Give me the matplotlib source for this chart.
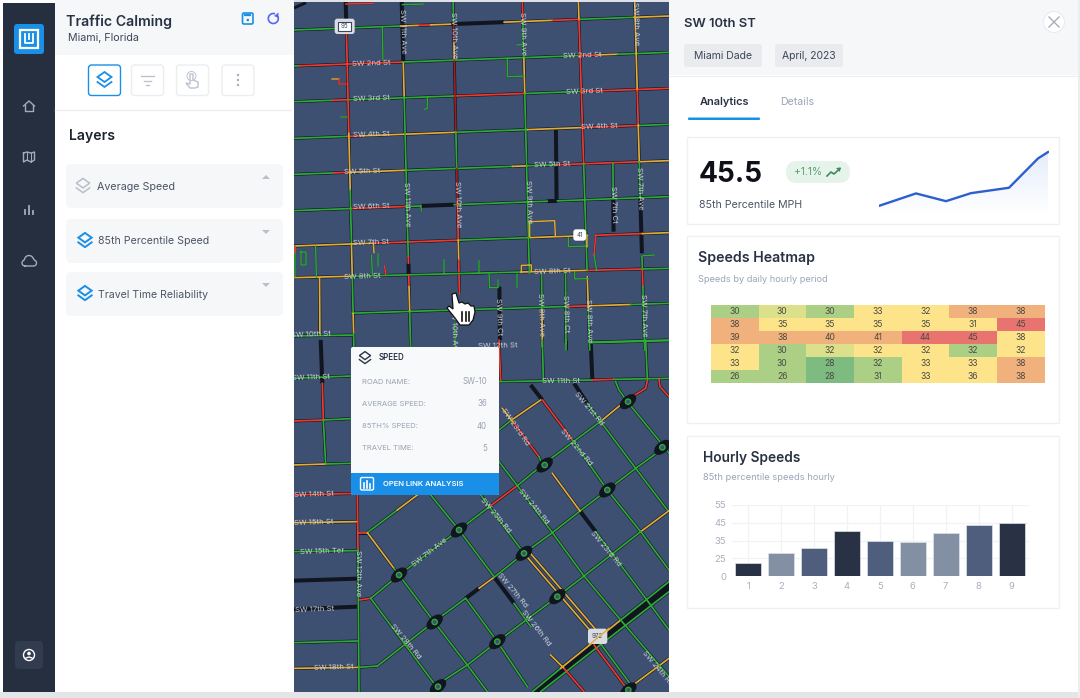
# plot.py - traffic calming dashboard screenshot
import numpy as np
import matplotlib
matplotlib.use("Agg")
import matplotlib.pyplot as plt
from matplotlib.colors import ListedColormap, LinearSegmentedColormap
from matplotlib.patches import FancyBboxPatch, Rectangle, Polygon, Circle, Ellipse

plt.rcParams['font.family'] = ['Inter', 'DejaVu Sans']

W, H = 1080, 698

# === DATA ===
HEAT_VALUES = [
    [30, 30, 30, 33, 32, 38, 38],
    [38, 35, 35, 35, 35, 31, 45],
    [39, 38, 40, 41, 44, 45, 38],
    [32, 30, 32, 32, 32, 32, 32],
    [33, 30, 28, 32, 33, 33, 38],
    [26, 26, 28, 31, 33, 36, 38],
]
# colour class of each cell: 0 deep green, 1 green, 2 pale, 3 yellow, 4 orange, 5 red
HEAT_CLASS = [
    [1, 2, 1, 3, 3, 4, 4],
    [4, 3, 3, 3, 3, 3, 5],
    [4, 4, 4, 4, 5, 5, 3],
    [3, 1, 2, 3, 3, 1, 3],
    [3, 1, 0, 1, 3, 3, 4],
    [1, 1, 0, 1, 3, 3, 4],
]
HEAT_COLORS = ["#7dbb80", "#abcf85", "#dce08a", "#fde48b", "#f0b17d", "#e9746f"]

HOURS = [1, 2, 3, 4, 5, 6, 7, 8, 9]
HOURLY_SPEED = [19, 28, 31, 40.5, 34.5, 34, 39, 43.5, 45]
BAR_COLORS = ["#283244", "#838fa3", "#4e5e7c", "#283244", "#4e5e7c",
              "#838fa3", "#838fa3", "#4e5e7c", "#283244"]
SPEED_TICKS = [0, 25, 35, 45, 55]

SPARK_X = [0, 37, 67, 92, 130, 159, 169]
SPARK_Y = [6.6, 15.6, 10, 15.8, 19.7, 40.9, 45.5]

ROAD_COLORS = {"g": "#2eaa38", "y": "#e0ac3a", "r": "#ee3a2e", "d": "#9a1f20", "k": "#11151f"}

# horizontal roads upper map: y at left, y at right, (x0, x1, colour) pieces (3x zoom coords)
TOP_H = [
    (90, 48, [(0, 150, "g"), (150, 320, "g"), (320, 375, "y"), (375, 410, "r"), (410, 470, "y"),
              (470, 630, "k"), (630, 775, "y"), (775, 855, "r"), (855, 1020, "g"), (1020, 1125, "y")]),
    (198, 157, [(0, 15, "g"), (15, 325, "r"), (325, 855, "g"), (855, 915, "r"), (915, 970, "y"), (970, 1125, "g")]),
    (305, 265, [(0, 115, "g"), (115, 160, "r"), (160, 480, "g"), (480, 695, "r"), (695, 860, "g"), (860, 1125, "r")]),
    (415, 373, [(0, 160, "g"), (160, 200, "r"), (200, 485, "y"), (485, 700, "g"), (700, 865, "y"), (865, 1035, "r"), (1035, 1125, "g")]),
    (523, 482, [(0, 120, "g"), (120, 165, "r"), (165, 335, "y"), (335, 655, "g"), (655, 700, "y"), (700, 790, "g"), (790, 1035, "r"), (1035, 1125, "y")]),
    (632, 590, [(0, 170, "g"), (170, 335, "r"), (335, 380, "g"), (380, 480, "k"), (480, 760, "g"), (760, 790, "k"), (790, 1125, "g")]),
    (738, 698, [(0, 240, "y"), (240, 495, "r"), (495, 710, "g"), (710, 880, "y"), (905, 1045, "r"), (1045, 1125, "y")]),
    (833, 805, [(0, 170, "y"), (170, 680, "g"), (680, 880, "y"), (880, 1045, "r"), (1045, 1125, "g")]),
    (945, 910, [(175, 815, "g"), (815, 885, "r"), (885, 1010, "y"), (1010, 1125, "g")]),
    (1008, 990, [(0, 175, "g")]),
    (1050, 1020, [(885, 1125, "g")]),
]
# vertical roads upper map: x at top, x at bottom, (y0, y1, colour) pieces
TOP_V = [
    (155, 180, [(0, 90, "k"), (90, 400, "r"), (400, 570, "y"), (570, 730, "g"), (730, 830, "y"), (830, 940, "g"), (940, 1000, "y"), (1000, 1050, "g")]),
    (323, 350, [(0, 70, "k"), (70, 190, "k"), (190, 290, "y"), (290, 770, "g"), (770, 790, "r"), (790, 825, "k"), (825, 860, "r"), (860, 935, "y"), (935, 1040, "g")]),
    (477, 500, [(0, 70, "g"), (70, 130, "d"), (130, 180, "y"), (180, 395, "d"), (395, 505, "g"), (505, 600, "d"), (600, 720, "r"), (720, 780, "y"), (780, 815, "r"), (825, 880, "r")]),
    (685, 712, [(0, 60, "r"), (60, 175, "g"), (175, 280, "y"), (280, 820, "g")]),
    (735, 745, [(825, 930, "g"), (930, 1040, "y")]),
    (853, 887, [(0, 60, "y"), (60, 490, "r"), (490, 810, "g"), (830, 930, "y"), (930, 1050, "g")]),
    (1022, 1052, [(0, 270, "y"), (270, 375, "r"), (375, 485, "y"), (485, 590, "g"), (590, 760, "k"), (770, 810, "g"), (810, 860, "r"), (860, 1050, "g")]),
    (782, 792, [(390, 600, "k")]),
    (952, 962, [(490, 590, "g"), (590, 695, "k")]),
    (608, 618, [(860, 1020, "k")]),
    (810, 816, [(820, 880, "g"), (880, 1030, "g")]),
    (72, 78, [(833, 1000, "y")]),
]
# small dead-end stubs upper map
TOP_STUBS = [
    ("g", [(265, 80), (267, 180)]), ("g", [(325, 14), (387, 12)]), ("r", [(155, 12), (236, 10)]),
    ("g", [(640, 175), (640, 230), (690, 228)]), ("y", [(113, 238), (135, 238)]), ("r", [(135, 238), (135, 252), (155, 252)]),
    ("g", [(400, 292), (400, 325), (392, 328)]), ("g", [(140, 352), (160, 352)]), ("g", [(670, 135), (690, 133)]),
    ("y", [(707, 710), (707, 665), (782, 662), (784, 708)]), ("g", [(823, 712), (823, 740), (878, 738)]),
    ("y", [(878, 705), (878, 740)]), ("r", [(905, 708), (900, 765)]), ("g", [(900, 765), (908, 812)]),
    ("g", [(1048, 767), (1080, 765)]), ("y", [(682, 818), (682, 796), (712, 795), (712, 815)]),
    ("g", [(842, 815), (842, 837), (883, 836)]), ("g", [(585, 822), (587, 863), (612, 863), (612, 840)]),
    ("g", [(670, 822), (670, 862)]), ("g", [(450, 780), (450, 822)]), ("g", [(556, 783), (556, 820)]),
    ("g", [(233, 766), (235, 826)]), ("g", [(252, 762), (252, 798)]), ("r", [(272, 798), (275, 824)]),
    ("g", [(65, 738), (67, 832)]), ("g", [(20, 755), (37, 755), (37, 795), (20, 795), (20, 755)]),
    ("y", [(238, 730), (240, 758)]), ("g", [(4, 738), (4, 830)]), ("r", [(2, 738), (2, 760)]),
    ("g", [(380, 615), (382, 632)]), ("g", [(482, 970), (484, 1050)]), ("k", [(0, 24), (36, 8)]),
]
# lower map roads, 3x zoom coords again
BOT_ROADS = [
    ("k", [(80, 0), (85, 130)]), ("r", [(85, 130), (88, 240)]), ("g", [(88, 240), (95, 372)]),
    ("g", [(0, 115), (170, 108)]), ("r", [(0, 243), (88, 240)]), ("g", [(88, 240), (170, 236)]),
    ("y", [(0, 375), (95, 372)]), ("g", [(95, 372), (170, 370)]),
    ("r", [(0, 465), (190, 460)]), ("y", [(0, 548), (190, 545)]), ("g", [(0, 635), (190, 632)]),
    ("k", [(0, 722), (190, 716)]), ("k", [(0, 808), (190, 800)]), ("g", [(0, 908), (190, 903)]),
    ("y", [(0, 985), (195, 982)]), ("g", [(195, 982), (250, 978)]),
    ("r", [(190, 460), (192, 630)]), ("g", [(192, 630), (195, 1055)]),
    ("r", [(192, 578), (220, 578)]), ("r", [(197, 780), (230, 775)]),
    ("r", [(615, 0), (620, 122)]), ("g", [(745, 0), (748, 118)]), ("k", [(890, 0), (895, 118)]),
    ("g", [(1055, 0), (1060, 118)]), ("g", [(815, 0), (815, 30)]), ("g", [(890, 8), (1125, 2)]),
    ("g", [(615, 125), (895, 120)]), ("r", [(895, 120), (960, 118)]), ("g", [(960, 118), (1125, 115)]),
    ("r", [(1060, 122), (1055, 145), (1015, 170)]), ("r", [(1095, 118), (1098, 140), (1125, 170)]),
    ("g", [(965, 125), (975, 150), (1000, 185)]),
    # SW to NE
    ("g", [(230, 775), (315, 705), (495, 570), (590, 497)]), ("r", [(590, 497), (670, 437)]),
    ("g", [(670, 437), (745, 375), (925, 240)]), ("y", [(925, 240), (1010, 170)]),
    ("g", [(220, 578), (310, 510)]), ("y", [(310, 510), (370, 465)]), ("y", [(650, 242), (740, 180)]),
    ("g", [(615, 270), (650, 242)]),
    ("g", [(250, 978), (420, 845), (515, 775)]), ("k", [(515, 775), (555, 745)]), ("y", [(555, 745), (600, 712)]),
    ("g", [(600, 712), (690, 640), (775, 578), (858, 513), (940, 450), (1025, 385), (1125, 312)]),
    ("g", [(520, 975), (610, 905), (790, 770)]), ("g", [(790, 770), (870, 708), (1040, 575)]), ("y", [(1040, 575), (1125, 512)]),
    ("g", [(715, 1055), (800, 985)]), ("y", [(800, 985), (980, 840)]),
    ("g", [(980, 840), (1125, 725)]), ("g", [(740, 1055), (880, 945), (1125, 755)]),
    ("y", [(1000, 1048), (1125, 955)]), ("g", [(420, 1040), (520, 975)]),
    # NW to SE
    ("y", [(220, 578), (300, 685)]), ("g", [(300, 685), (420, 845), (520, 975), (580, 1055)]),
    ("g", [(230, 775), (420, 1030), (440, 1055)]),
    ("g", [(410, 465), (495, 570), (600, 710)]), ("k", [(600, 710), (660, 790)]),
    ("g", [(660, 790), (710, 860)]), ("g", [(515, 775), (610, 905), (700, 1040)]),
    ("y", [(770, 945), (810, 985)]), ("r", [(810, 985), (870, 1055)]),
    ("g", [(560, 465), (690, 640)]), ("y", [(690, 640), (900, 885)]), ("y", [(705, 635), (915, 880)]),
    ("r", [(900, 915), (1000, 1048)]), ("g", [(915, 905), (1015, 1040)]),
    ("g", [(615, 365), (670, 437), (775, 578), (870, 708), (980, 840), (1125, 1010)]),
    ("y", [(625, 205), (660, 250)]), ("r", [(660, 250), (735, 350)]), ("g", [(735, 350), (745, 375)]),
    ("y", [(775, 400), (858, 513)]), ("k", [(858, 513), (905, 575)]), ("g", [(905, 575), (1055, 775), (1125, 870)]),
    ("k", [(710, 135), (745, 180)]), ("r", [(745, 180), (835, 300)]), ("g", [(835, 300), (940, 450), (1040, 575), (1125, 690)]),
    ("k", [(840, 130), (880, 190)]), ("g", [(880, 190), (920, 245), (1025, 385), (1120, 510)]),
    ("g", [(1000, 185), (1110, 320), (1125, 340)]),
]
# the wide dark road running to the bottom corner
BOT_WIDE = [(700, 1075), (1125, 740)]
# junction blobs of the lower map
BOT_NODES = [(495, 570), (315, 705), (422, 846), (610, 905), (690, 640), (790, 770),
             (752, 375), (940, 450), (1002, 185), (1105, 322), (432, 1040), (1003, 1050)]

TOP_LABELS = [
    ("SW 2nd St", 232, 190, 2), ("SW 3rd St", 232, 296, 2), ("SW 4th St", 232, 403, 2),
    ("SW 5th St", 205, 514, 2), ("SW 6th St", 232, 620, 2), ("SW 7th St", 232, 727, 2),
    ("SW 8th St", 205, 828, 2), ("SW 2nd St", 865, 166, 2), ("SW 3rd St", 870, 273, 2),
    ("SW 4th St", 917, 380, 2), ("SW 5th St", 775, 493, 2), ("SW 8th St", 775, 815, 2),
    ("SW 10th St", 50, 1003, 2), ("SW 12th St", 612, 1038, 1),
    ("SW 11th Ave", 326, 95, -88), ("SW 10th Ave", 478, 105, -88), ("SW 9th Ave", 686, 100, -88),
    ("SW 8th Ave", 1024, 70, -88), ("SW 11th Ave", 338, 612, -88), ("SW 10th Ave", 490, 612, -88),
    ("SW 9th Ave", 705, 605, -88), ("SW 7th Ct", 958, 612, -88), ("SW 7th Ave", 1038, 565, -88),
    ("SW 9th Ct", 613, 950, -88), ("SW 8th Ave", 740, 945, -88), ("SW 8th Ct", 815, 940, -88),
    ("SW 8th Ave", 885, 962, -88), ("SW 7th Ave", 1050, 945, -88), ("SW 10th Ave", 480, 990, -88),
]
BOT_LABELS = [
    ("SW 11th St", 50, 112, 2), ("SW 14th St", 60, 462, 2), ("SW 15th St", 60, 548, 2),
    ("SW 15th Ter", 85, 635, 2), ("SW 17th St", 62, 808, 2), ("SW 18th St", 120, 983, 2),
    ("SW 12th Ave", 193, 700, -90), ("SW 11th St", 800, 122, 0), ("SW 21st Rd", 885, 205, -50),
    ("SW 22nd Rd", 845, 320, -50), ("SW 23rd Rd", 665, 260, -55), ("SW 24th Rd", 720, 500, -50),
    ("SW 25th Rd", 605, 525, -50), ("SW 7th Ave", 408, 637, 38), ("SW 23rd Rd", 935, 625, -50),
    ("SW 26th Rd", 725, 865, -52), ("SW 28th Rd", 335, 905, -50), ("SW 24th Rd", 1090, 985, -50),
    ("SW 27th Rd", 655, 750, -50),
]

POPUP_ROWS = [("ROAD NAME:", "SW-10"), ("AVERAGE SPEED:", "36"), ("85TH% SPEED:", "40"), ("TRAVEL TIME:", "5")]
LAYER_ITEMS = ["Average Speed", "85th Percentile Speed", "Travel Time Reliability"]

BLUE = "#1a8fe8"
NAVY = "#262f40"
TITLE = "#283244"
GREY = "#9aa5b6"
PANEL = "#f6f7f9"
BORDER = "#eef0f4"
MAP_BG = "#3e5071"


def px_axes(x0, y0, x1, y1, **kw):
    # axes placed with screenshot pixels
    return fig.add_axes([x0 / W, 1 - y1 / H, (x1 - x0) / W, (y1 - y0) / H], **kw)


def box(ax, x0, y0, x1, y1, fc, ec="none", r=4, lw=1.0, z=1):
    ax.add_patch(FancyBboxPatch((x0, y0), x1 - x0, y1 - y0, boxstyle=f"round,pad=0,rounding_size={r}",
                                fc=fc, ec=ec, lw=lw, zorder=z))


def label(ax, x, y, s, size, color=TITLE, weight="normal", ha="left", z=5, rot=0):
    ax.text(x, y + 1, s, fontsize=size, color=color, fontweight=weight, ha=ha, va="center", zorder=z,
            rotation=rot, rotation_mode="anchor")


def layers_icon(ax, x, y, color, s=1.0, lw=1.3, z=6):
    ax.add_patch(Polygon([(x - 7 * s, y - 3 * s), (x, y - 8 * s), (x + 7 * s, y - 3 * s), (x, y + 2 * s)],
                         closed=True, fc="none", ec=color, lw=lw, zorder=z))
    ax.plot([x - 7 * s, x, x + 7 * s], [y + 2 * s, y + 7 * s, y + 2 * s], color=color, lw=lw, zorder=z)


def road(ax, pts, c, lw=1.25, casing=2.1):
    xs = [p[0] for p in pts]
    ys = [p[1] for p in pts]
    ax.plot(xs, ys, color=ROAD_COLORS["k"], lw=casing + (0.8 if c == "k" else 0), solid_capstyle="butt", zorder=2)
    if c != "k":
        ax.plot(xs, ys, color=ROAD_COLORS[c], lw=lw, solid_capstyle="round", zorder=3)


def arc(cx, cy, r, a0, a1):
    t = np.radians(np.linspace(a0, a1, 16))
    return list(cx + r * np.cos(t)), list(cy + r * np.sin(t))


fig = plt.figure(figsize=(W / 100, H / 100), dpi=100, facecolor="white")

# === MAP ===
mp = px_axes(294, 0, 669, 692)
mp.set_xlim(0, 1125)
mp.set_ylim(2076, 0)
mp.axis("off")
mp.add_patch(Rectangle((0, 0), 1125, 2076, fc=MAP_BG, ec="none", zorder=0))

for yl, yr, parts in TOP_H:
    for x0, x1, c in parts:
        road(mp, [(x0, yl + (yr - yl) * x0 / 1125), (x1, yl + (yr - yl) * x1 / 1125)], c)
for xt, xb, parts in TOP_V:
    for y0, y1, c in parts:
        road(mp, [(xt + (xb - xt) * y0 / 1050, y0), (xt + (xb - xt) * y1 / 1050, y1)], c)
for c, pts in TOP_STUBS:
    road(mp, pts, c, lw=1.1, casing=1.3)
mp.plot([x for x, y in BOT_WIDE], [y + 1020 for x, y in BOT_WIDE], color=ROAD_COLORS["k"], lw=4.5, zorder=1.5)
for c, pts in BOT_ROADS:
    road(mp, [(x, y + 1020) for x, y in pts], c)
for x, y in BOT_NODES:
    mp.add_patch(Ellipse((x, y + 1020), 58, 34, angle=-40, fc="#11151f", ec="none", zorder=3.5))
    mp.add_patch(Circle((x, y + 1020), 8, fc=MAP_BG, ec=ROAD_COLORS["g"], lw=1.0, zorder=3.6))

for s, x, y, rot in TOP_LABELS:
    mp.text(x, y, s, fontsize=5.6, color="#ced3da", ha="center", va="center", rotation=rot, zorder=4)
for s, x, y, rot in BOT_LABELS:
    mp.text(x, y + 1020, s, fontsize=5.6, color="#ced3da", ha="center", va="center", rotation=rot, zorder=4)

# route shields
box(mp, 122, 56, 182, 102, "#d9dce1", r=8, z=5)
mp.add_patch(Rectangle((132, 66), 40, 26, fc="white", ec="#39465e", lw=0.8, zorder=5.5))
mp.text(152, 79, "95", fontsize=4.5, color="#39465e", ha="center", va="center", zorder=6)
box(mp, 838, 688, 876, 722, "white", r=8, z=5)
mp.text(857, 705, "41", fontsize=4.5, color="#39465e", ha="center", va="center", zorder=6)
box(mp, 882, 1886, 940, 1932, "#d9dce1", r=8, z=5)
mp.text(911, 1909, "972", fontsize=4.5, color="#39465e", ha="center", va="center", zorder=6)
mp.plot([885, 945], [1935, 1885], color=ROAD_COLORS["y"], lw=1.0, zorder=6.5)

# === UI LAYER ===
ui = px_axes(0, 0, W, H)
ui.set_xlim(0, W)
ui.set_ylim(H, 0)
ui.axis("off")
ui.patch.set_alpha(0)
ui.set_zorder(3)

# screenshot frame
ui.add_patch(Rectangle((0, 692), W, 6, fc="#e4e5e7", ec="none", zorder=0.5))
ui.add_patch(Rectangle((1078, 0), 2, H, fc="#eceded", ec="none", zorder=0.5))
ui.add_patch(Rectangle((294, 0), 375, 1.5, fc="#dfe1e5", ec="none", zorder=0.6))

# sidebar
ui.add_patch(Rectangle((3, 3), 52, 689, fc=NAVY, ec="none", zorder=1))
box(ui, 14, 24, 44, 54, BLUE, r=3, z=2)
ui.add_patch(Rectangle((20, 30), 18, 18, fc="none", ec="white", lw=1.6, zorder=3))
ui.plot([25, 25, 33, 33], [34, 43, 43, 34], color="white", lw=1.3, zorder=3)
ui.plot([29, 29], [34, 39], color="white", lw=1.3, zorder=3)
# home
ui.plot([23.5, 29, 34.5], [106, 101, 106], color="#a3acba", lw=1.0, zorder=3)
ui.plot([25, 25, 33, 33], [105, 110.5, 110.5, 105], color="#a3acba", lw=1.0, zorder=3)
# map
ui.plot([23.5, 23.5, 27, 31, 34.5, 34.5, 31, 27, 23.5], [153, 162, 160, 162, 160, 152, 153, 152, 153], color="#a3acba", lw=1.0, zorder=3)
ui.plot([27, 27], [152, 160], color="#a3acba", lw=0.8, zorder=3)
ui.plot([31, 31], [153, 162], color="#a3acba", lw=0.8, zorder=3)
# bars
for bx, by in [(25, 210), (29, 206), (33, 211)]:
    ui.plot([bx, bx], [by, 214], color="#a3acba", lw=1.3, zorder=3)
# cloud
cx1, cy1 = arc(25, 263, 3, 90, 250)
cx2, cy2 = arc(29, 260, 4.5, 200, 340)
cx3, cy3 = arc(33.5, 263, 3, 290, 450)
ui.plot(cx1 + cx2 + cx3 + cx1[:1], cy1 + cy2 + cy3 + cy1[:1], color="#a3acba", lw=1.0, zorder=3)
# user
box(ui, 15, 641, 43, 669, "#323c4f", r=4, z=2)
ui.add_patch(Circle((29, 655), 5.5, fc="none", ec="white", lw=1.0, zorder=3))
ui.add_patch(Circle((29, 653.5), 1.8, fc="white", ec="none", zorder=3))
ui.plot([26, 29, 32], [658, 657, 658], color="white", lw=1.0, zorder=3)

# left panel
ui.add_patch(Rectangle((55, 0), 239, 692, fc="white", ec="none", zorder=1))
ui.add_patch(Rectangle((55, 0), 239, 55, fc=PANEL, ec="none", zorder=1.1))
label(ui, 66, 21, "Traffic Calming", 10.2, weight="semibold")
label(ui, 68, 37, "Miami, Florida", 7.7, color="#3d4657")
# save and refresh
box(ui, 242.5, 13, 253, 24, "none", ec=BLUE, r=1.5, lw=1.2, z=3)
ui.add_patch(Circle((247.8, 20), 1.3, fc=BLUE, ec="none", zorder=3))
ui.plot([245, 250], [14.5, 14.5], color=BLUE, lw=1.6, zorder=3)
t = np.linspace(-0.3, 4.9, 30)
ui.plot(273.3 + 5 * np.cos(t), 18.5 + 5 * np.sin(t), color="#5368f0", lw=1.2, zorder=3)
ui.add_patch(Polygon([(278.5, 12.5), (278.5, 18), (274, 16)], closed=True, fc="#5368f0", ec="none", zorder=3))

# tool buttons
box(ui, 88.5, 65, 120.5, 95.5, "white", ec=BLUE, r=3, z=2)
layers_icon(ui, 104.5, 80, BLUE)
for bx in [(131.5, 163.5), (176.5, 208.5), (222, 254)]:
    box(ui, bx[0], 65, bx[1], 95.5, "white", ec="#ebedf1", r=3, z=2)
ui.plot([141, 154], [76, 76], color="#bcc3cf", lw=1.0, zorder=3)
ui.plot([144, 151], [80.5, 80.5], color="#bcc3cf", lw=1.0, zorder=3)
ui.plot([146, 149], [85, 85], color="#bcc3cf", lw=1.0, zorder=3)
ui.add_patch(Polygon([(190, 74), (193, 74), (193, 80), (198, 82), (198, 87), (195, 88), (190, 88), (186, 83), (190, 84)],
                     closed=True, fc="none", ec="#bcc3cf", lw=1.0, zorder=3))
ui.add_patch(Circle((191.5, 76), 4.5, fc="none", ec="#bcc3cf", lw=0.7, zorder=3))
for dy in [75, 80, 85]:
    ui.add_patch(Circle((238, dy), 1.2, fc="#a5adba", ec="none", zorder=3))
ui.plot([55, 291], [110, 110], color="#eceef1", lw=1.0, zorder=2)

label(ui, 69, 135, "Layers", 10.1, color="#1c2230", weight="semibold")
ITEM_Y = [(164, 208), (219, 263), (272, 316)]
for i, (name, (y0, y1)) in enumerate(zip(LAYER_ITEMS, ITEM_Y)):
    box(ui, 66, y0, 283, y1, PANEL, r=5, z=2)
    cy = (y0 + y1) / 2 + (0 if i == 0 else -0.5)
    layers_icon(ui, 83 if i == 0 else 85, cy, "#b8bec9" if i == 0 else BLUE, s=0.95, lw=1.1 if i == 0 else 1.4)
    label(ui, 97 if i == 0 else 98, cy, name, 7.7 if i == 0 else 7.6, color="#4b5465")
    ay = y0 + 13
    if i == 0:
        ui.add_patch(Polygon([(262, ay + 2), (270, ay + 2), (266, ay - 2)], closed=True, fc="#b9c0cb", ec="none", zorder=3))
    else:
        ui.add_patch(Polygon([(262, ay - 2), (270, ay - 2), (266, ay + 2)], closed=True, fc="#b9c0cb", ec="none", zorder=3))

# right panel
ui.add_patch(Rectangle((669, 0), 409, 692, fc="white", ec="none", zorder=1))
ui.add_patch(Rectangle((669, 0), 409, 75, fc=PANEL, ec="none", zorder=1.1))
ui.plot([669, 1078], [75.5, 75.5], color="#eceef1", lw=0.8, zorder=1.2)
label(ui, 684, 23, "SW 10th ST", 9.4, weight="semibold")
box(ui, 684, 44, 762, 67, "#e9ebee", r=3, z=2)
label(ui, 723, 55, "Miami Dade", 7.5, color="#3d4657", ha="center")
box(ui, 775, 44, 843, 67, "#e9ebee", r=3, z=2)
label(ui, 809, 55, "April, 2023", 7.5, color="#3d4657", ha="center")
ui.add_patch(Circle((1054, 22), 10.5, fc="white", ec="#e9ebef", lw=0.8, zorder=2))
ui.plot([1049, 1059], [17, 27], color="#a7afbc", lw=1.0, zorder=3)
ui.plot([1049, 1059], [27, 17], color="#a7afbc", lw=1.0, zorder=3)
label(ui, 724.5, 101, "Analytics", 7.9, weight="semibold", ha="center")
label(ui, 797.5, 101, "Details", 7.6, color="#9aa5b6", ha="center")
box(ui, 688, 117.5, 760, 120, BLUE, r=1, z=3)

# cards
for y0, y1 in [(137, 224), (236, 423), (436, 608)]:
    ui.add_patch(Rectangle((687, y0), 372, y1 - y0, fc="white", ec=BORDER, lw=1.0, zorder=2))

label(ui, 699, 173, "45.5", 20.2, color="#0e1118", weight="bold")
box(ui, 786, 161, 850, 183, "#e6f3ea", r=11, z=3)
label(ui, 794, 171, "+1.1%", 7.4, color="#57a072")
ui.plot([827, 831, 834, 840], [176, 172, 174, 168.5], color="#3f8a5b", lw=1.2, zorder=4)
ui.add_patch(Polygon([(836, 168), (840.5, 167.5), (840, 172)], closed=True, fc="#3f8a5b", ec="none", zorder=4))
label(ui, 699, 204, "85th Percentile MPH", 7.6, color="#4b5465")

label(ui, 698, 257, "Speeds Heatmap", 10.2, weight="semibold")
label(ui, 698, 278, "Speeds by daily hourly period", 6.6, color=GREY)
label(ui, 703, 457, "Hourly Speeds", 9.9, weight="semibold")
label(ui, 703, 476, "85th percentile speeds hourly", 6.7, color=GREY)

# popup
box(ui, 351, 347, 499, 495, "#f8f9fb", r=2, z=6)
ui.add_patch(Rectangle((351, 473), 148, 20, fc=BLUE, ec="none", zorder=6.1))
box(ui, 351, 480, 499, 495, BLUE, r=2, z=6.05)
layers_icon(ui, 365, 358, "#2b3445", s=0.8, lw=1.0, z=7)
label(ui, 379, 357, "SPEED", 5.7, color="#2b3445", weight="semibold", z=7)
for i, (name, val) in enumerate(POPUP_ROWS):
    ry = 380.5 + i * 22.3
    label(ui, 362, ry, name, 5.5, color="#9aa3b1", z=7)
    label(ui, 487, ry, val, 5.7, color="#9aa3b1", ha="right", z=7)
box(ui, 360.5, 477.5, 373.5, 490, "none", ec="white", r=1.5, lw=1.0, z=7)
for bx, by in [(364, 483), (367, 480.5), (370, 484)]:
    ui.plot([bx, bx], [by, 487.5], color="white", lw=1.2, zorder=7)
label(ui, 383, 483, "OPEN LINK ANALYSIS", 5.5, color="white", weight="semibold", z=7)

# hand cursor
hand = [(452, 294), (456, 293), (459, 303), (462, 302), (465, 304), (468, 303), (471, 306), (474, 306), (475, 312),
        (473, 320), (469, 325), (460, 325), (455, 318), (447, 308), (449, 306), (453, 309)]
ui.add_patch(Polygon(hand, closed=True, fc="white", ec="#111111", lw=0.9, zorder=5))
for hx in [462, 465.5, 469]:
    ui.plot([hx, hx], [312, 321], color="#111111", lw=1.2, zorder=5.1)

# === SPARKLINE ===
sp = px_axes(879, 150, 1049, 215)
sp.set_zorder(4)
sp.patch.set_alpha(0)
sp.axis("off")
sp.set_xlim(0, 170)
sp.set_ylim(0, 47)
grad = LinearSegmentedColormap.from_list("spark", ["#ffffff", "#e4ecfa"])
img = sp.imshow(np.linspace(1, 0, 64).reshape(-1, 1), cmap=grad, extent=(0, 169, 0, 47), aspect="auto", zorder=1)
fill = sp.fill_between(SPARK_X, SPARK_Y, 0, color="none")
img.set_clip_path(fill.get_paths()[0], transform=sp.transData)
sp.plot(SPARK_X, SPARK_Y, color="#2c5fcf", lw=1.7, zorder=2, solid_joinstyle="round")

# === HEATMAP ===
hm = px_axes(710.7, 305, 1044.7, 382.7)
hm.set_zorder(4)
hm.imshow(HEAT_CLASS, cmap=ListedColormap(HEAT_COLORS), vmin=-0.5, vmax=5.5, aspect="auto", interpolation="nearest")
for r, row in enumerate(HEAT_VALUES):
    for c, v in enumerate(row):
        hm.text(c, r, str(v), ha="center", va="center", fontsize=6.1, color="#4a4a44")
hm.axis("off")


# === HOURLY BARS ===
def speed_fwd(v):
    return np.interp(v, SPEED_TICKS, range(len(SPEED_TICKS)))


def speed_inv(v):
    return np.interp(v, range(len(SPEED_TICKS)), SPEED_TICKS)


bx = px_axes(731.7, 505, 1029, 576)
bx.set_zorder(4)
bx.bar(HOURS, HOURLY_SPEED, width=0.79, color=BAR_COLORS, edgecolor="#dfe3ea", linewidth=0.5, zorder=3)
bx.set_yscale("function", functions=(speed_fwd, speed_inv))
bx.set_xlim(0.5, 9.53)
bx.set_ylim(0, 55)
bx.set_yticks(SPEED_TICKS)
bx.set_yticklabels([str(v) for v in SPEED_TICKS])
bx.yaxis.set_minor_locator(matplotlib.ticker.NullLocator())
bx.set_xticks(HOURS)
bx.grid(color="#f0f2f6", lw=0.9, zorder=0)
bx.set_axisbelow(True)
bx.tick_params(length=0, labelsize=6.8, labelcolor="#a7b0bf", pad=4)
for spine in bx.spines.values():
    spine.set_visible(False)

fig.savefig("out.png", dpi=100)
